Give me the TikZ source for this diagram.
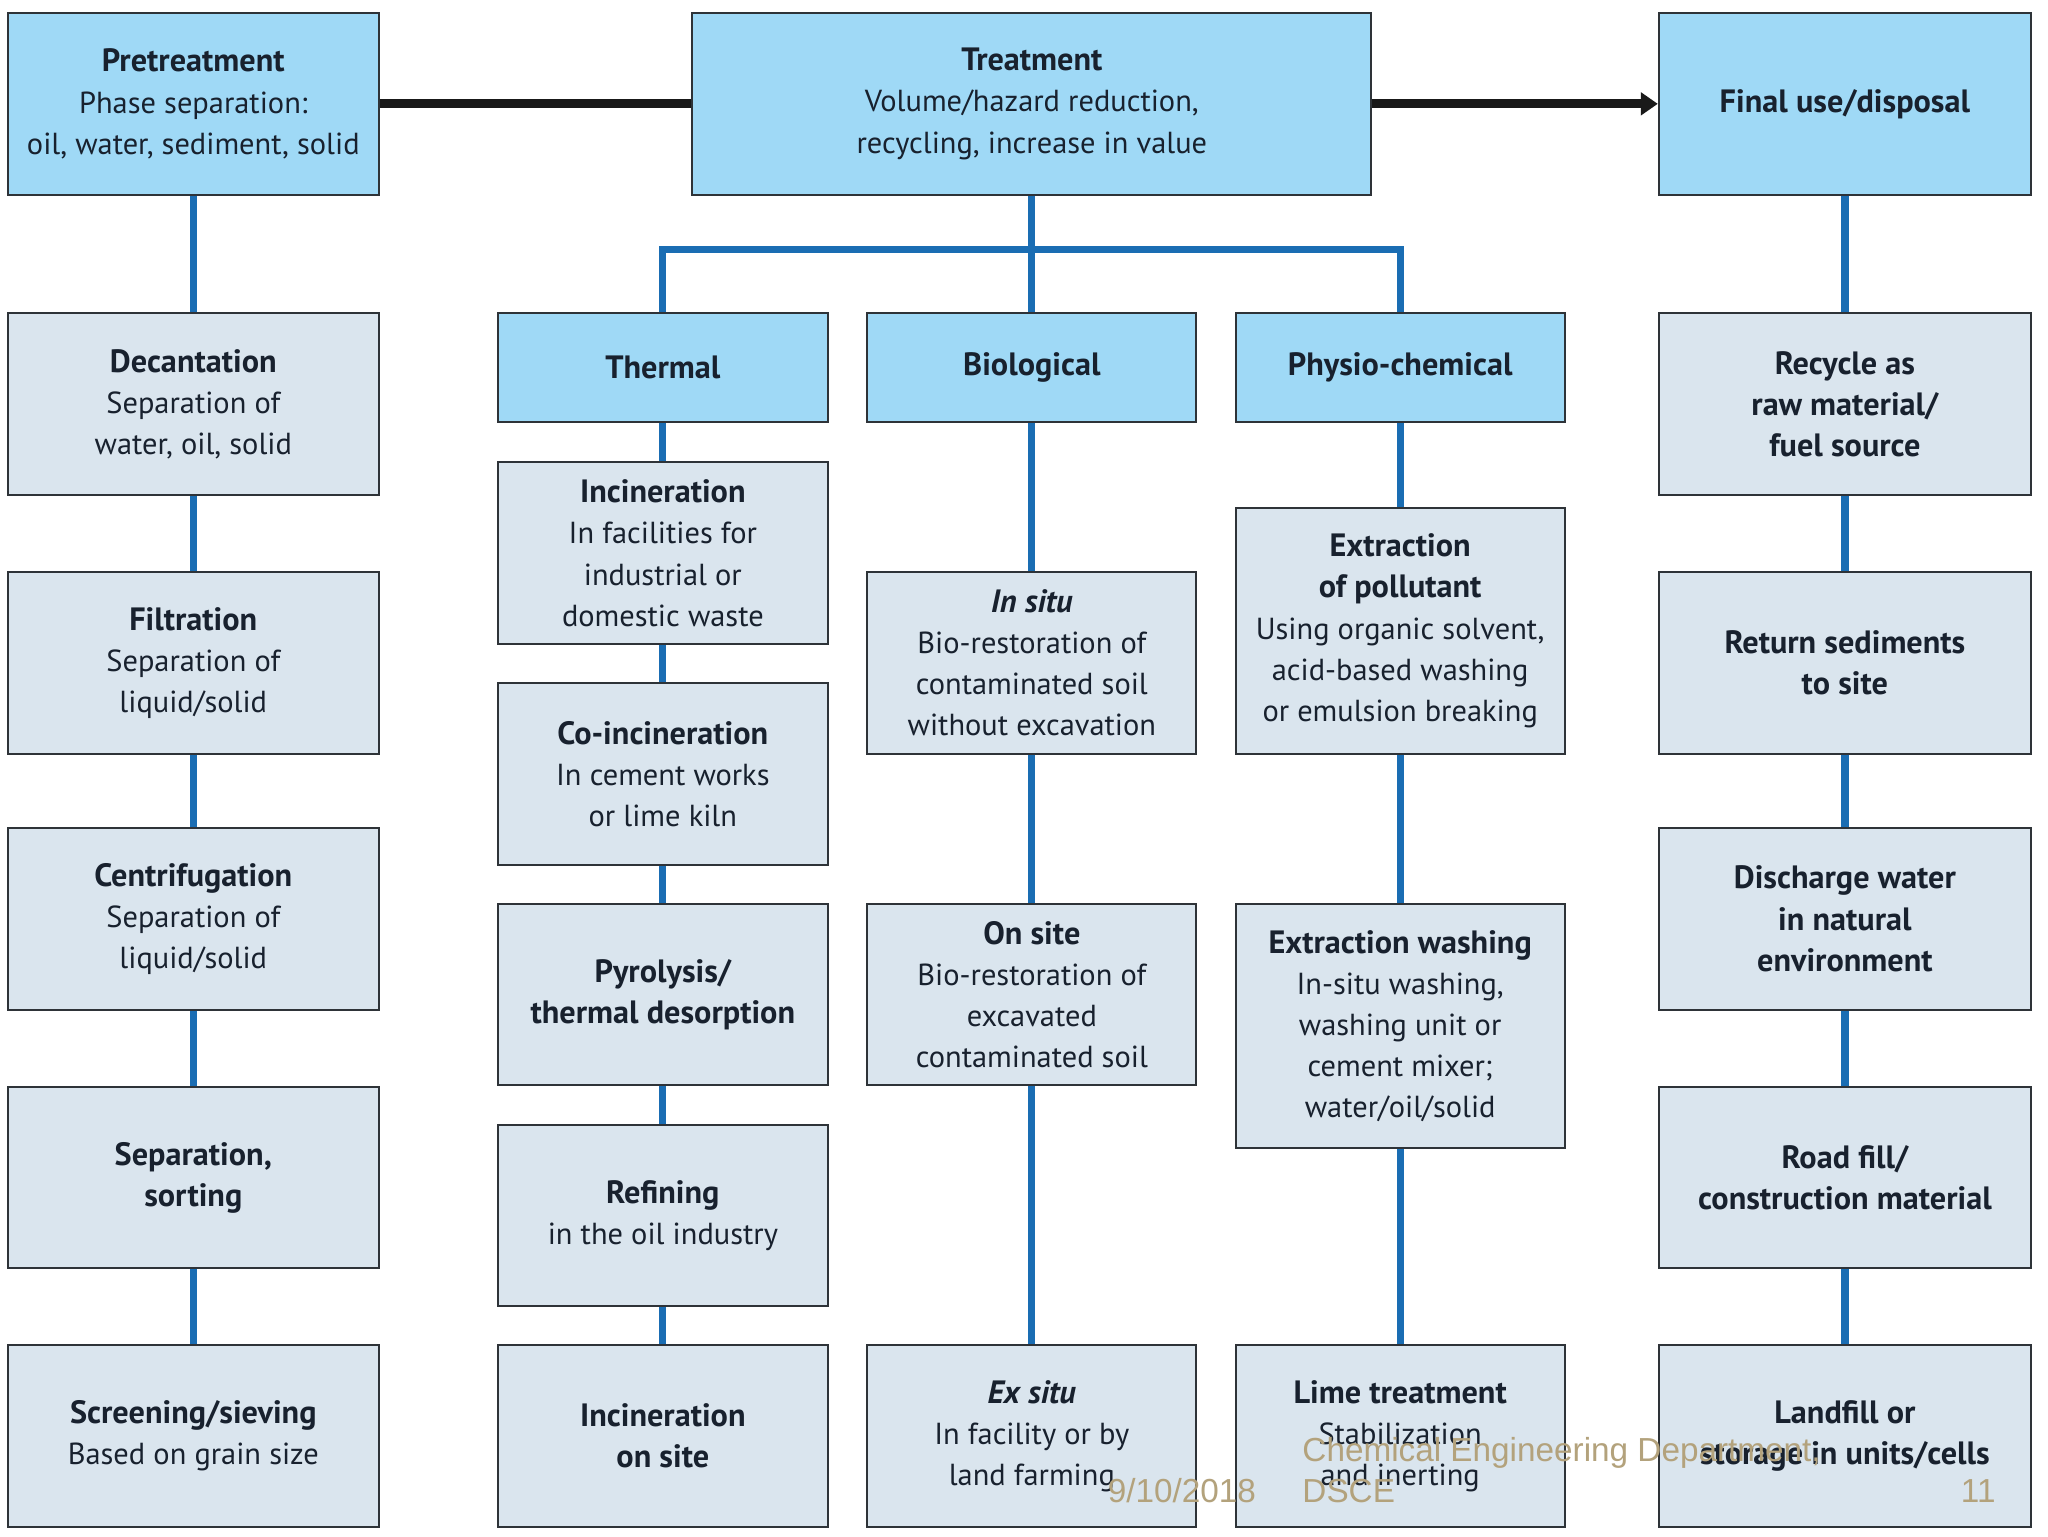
\documentclass[tikz,border=0pt]{standalone}
\usepackage{fontspec}
\setmainfont{PT Sans}
\newfontfamily\wmfont{Liberation Sans}
\usetikzlibrary{arrows.meta}
\definecolor{hdr}{HTML}{9FD9F6}
\definecolor{gbx}{HTML}{DAE5EE}
\definecolor{edgec}{HTML}{2E3338}
\definecolor{txt}{HTML}{18212E}
\definecolor{blu}{HTML}{1A6DB3}
\definecolor{wm}{HTML}{B3A27C}
\newcommand{\hb}[1]{{\fontsize{24.7}{31.5}\selectfont\bfseries #1}}
\begin{document}
\begin{tikzpicture}[x=1pt,y=-1pt,
  box/.style={draw=edgec, line width=1.5pt, inner sep=0pt, align=center, text=txt,
    font=\fontsize{23.3}{31.5}\selectfont},
  hbox/.style={box, fill=hdr},
  gbox/.style={box, fill=gbx},
  c1/.style={minimum width=284},
  c2/.style={minimum width=253},
  c3/.style={minimum width=252},
  c5/.style={minimum width=285},
  hstd/.style={minimum height=139},
  bl/.style={draw=blu, line width=5.5pt},
  bk/.style={draw=black!90, line width=7pt},
  wmtext/.style={inner sep=0pt, text=wm, font=\wmfont\fontsize{25.5}{30}\selectfont}]
\useasboundingbox[fill=white] (0,0) rectangle (1568,1176);

% top row
\node[hbox, c1, hstd] (pre) at (148,79.5) {\hb{Pretreatment}\\Phase separation:\\oil, water, sediment, solid};
\node[hbox, minimum width=520, hstd] (treat) at (790,79.5) {\hb{Treatment}\\Volume/hazard reduction,\\recycling, increase in value};
\node[hbox, c5, hstd] (final) at (1412.5,79.5) {\hb{Final use/disposal}};

% column 1
\node[gbox, c1, hstd] (dec) at (148,309.5) {\hb{Decantation}\\Separation of\\water, oil, solid};
\node[gbox, c1, hstd] (fil) at (148,507.5) {\hb{Filtration}\\Separation of\\liquid/solid};
\node[gbox, c1, hstd] (cen) at (148,703.5) {\hb{Centrifugation}\\Separation of\\liquid/solid};
\node[gbox, c1, hstd] (sep) at (148,901.5) {\hb{Separation,}\\\hb{sorting}};
\node[gbox, c1, hstd] (scr) at (148,1099.5) {\hb{Screening/sieving}\\Based on grain size};

% column 2 thermal
\node[hbox, c2, minimum height=83] (therm) at (507.5,281.5) {\hb{Thermal}};
\node[gbox, c2, hstd] (inc) at (507.5,423.5) {\hb{Incineration}\\In facilities for\\industrial or\\domestic waste};
\node[gbox, c2, hstd] (coi) at (507.5,592.5) {\hb{Co-incineration}\\In cement works\\or lime kiln};
\node[gbox, c2, hstd] (pyr) at (507.5,761.5) {\hb{Pyrolysis/}\\\hb{thermal desorption}};
\node[gbox, c2, hstd] (ref) at (507.5,930.5) {\hb{Refining}\\in the oil industry};
\node[gbox, c2, hstd] (ios) at (507.5,1099.5) {\hb{Incineration}\\\hb{on site}};

% column 3 biological
\node[hbox, c3, minimum height=83] (bio) at (790,281.5) {\hb{Biological}};
\node[gbox, c3, hstd] (ins) at (790,507.5) {\hb{\itshape In situ}\\Bio-restoration of\\contaminated soil\\without excavation};
\node[gbox, c3, hstd] (ons) at (790,761.5) {\hb{On site}\\Bio-restoration of\\excavated\\contaminated soil};
\node[gbox, c3, hstd] (exs) at (790,1099.5) {\hb{\itshape Ex situ}\\In facility or by\\land farming};

% column 4 physio-chemical
\node[hbox, c3, minimum height=83] (phys) at (1072,281.5) {\hb{Physio-chemical}};
\node[gbox, c3, minimum height=188] (ext) at (1072,483) {\hb{Extraction}\\\hb{of pollutant}\\Using organic solvent,\\acid-based washing\\or emulsion breaking};
\node[gbox, c3, minimum height=187] (exw) at (1072,785.5) {\hb{Extraction washing}\\In-situ washing,\\washing unit or\\cement mixer;\\water/oil/solid};
\node[gbox, c3, hstd] (lime) at (1072,1099.5) {\hb{Lime treatment}\\Stabilization\\and inerting};

% column 5
\node[gbox, c5, hstd] (rec) at (1412.5,309.5) {\hb{Recycle as}\\\hb{raw material/}\\\hb{fuel source}};
\node[gbox, c5, hstd] (ret) at (1412.5,507.5) {\hb{Return sediments}\\\hb{to site}};
\node[gbox, c5, hstd] (dis) at (1412.5,703.5) {\hb{Discharge water}\\\hb{in natural}\\\hb{environment}};
\node[gbox, c5, hstd] (road) at (1412.5,901.5) {\hb{Road fill/}\\\hb{construction material}};
\node[gbox, c5, hstd] (land) at (1412.5,1099.5) {\hb{Landfill or}\\\hb{storage in units/cells}};

% black main flow
\draw[bk] (pre.east) -- (treat.west);
\draw[bk, -{Triangle[length=13pt,width=17pt]}] (treat.east) -- (final.west);

% blue connectors
\coordinate (bus) at (790,191);
\draw[bl] (treat.south) -- (bus);
\draw[bl, line join=miter] (therm.north) |- (bus) -| (phys.north);
\draw[bl] (bus) -- (bio.north);

\draw[bl] (pre.south) -- (dec.north);
\draw[bl] (dec.south) -- (fil.north);
\draw[bl] (fil.south) -- (cen.north);
\draw[bl] (cen.south) -- (sep.north);
\draw[bl] (sep.south) -- (scr.north);

\draw[bl] (therm.south) -- (inc.north);
\draw[bl] (inc.south) -- (coi.north);
\draw[bl] (coi.south) -- (pyr.north);
\draw[bl] (pyr.south) -- (ref.north);
\draw[bl] (ref.south) -- (ios.north);

\draw[bl] (bio.south) -- (ins.north);
\draw[bl] (ins.south) -- (ons.north);
\draw[bl] (ons.south) -- (exs.north);

\draw[bl] (phys.south) -- (ext.north);
\draw[bl] (ext.south) -- (exw.north);
\draw[bl] (exw.south) -- (lime.north);

\draw[bl] (final.south) -- (rec.north);
\draw[bl] (rec.south) -- (ret.north);
\draw[bl] (ret.south) -- (dis.north);
\draw[bl] (dis.south) -- (road.north);
\draw[bl] (road.south) -- (land.north);

% footer / watermark
\node[wmtext, anchor=base west] (wm1) at (997,1119) {Chemical Engineering Department,};
\node[wmtext, anchor=base west] (wm2) at (848,1150) {9/10/2018};
\node[wmtext, anchor=base west] (wm3) at (997,1150) {DSCE};
\node[wmtext, anchor=base east] (wm4) at (1528,1150) {11};
\end{tikzpicture}
\end{document}
